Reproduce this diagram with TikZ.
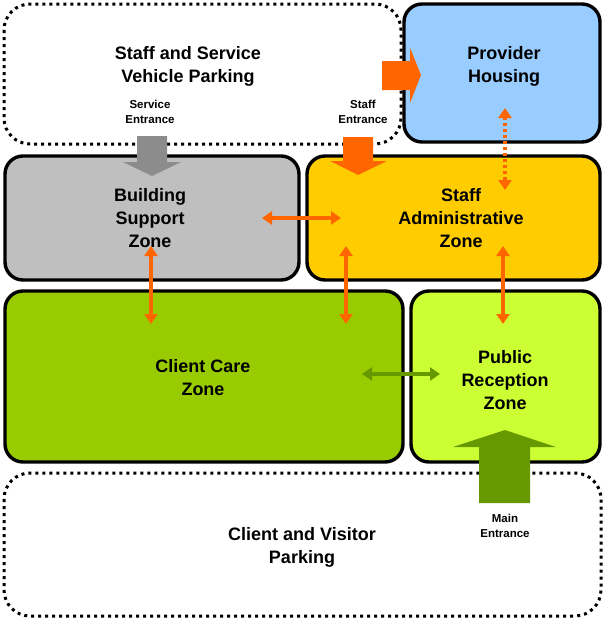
\documentclass[tikz,border=0pt]{standalone}
\usepackage{fontspec}
\setmainfont{Liberation Sans}
\usetikzlibrary{arrows.meta}
\begin{document}
\begin{tikzpicture}[x=1pt,y=-1pt,
  zone/.style={draw=black,line width=3.4pt,rounded corners=18pt},
  park/.style={draw=black,line width=3pt,dash pattern=on 3pt off 4pt,rounded corners=26pt},
  lbl/.style={font=\bfseries\fontsize{18}{23}\selectfont,align=center},
  small/.style={font=\bfseries\fontsize{11.5}{15}\selectfont,align=center},
  link/.style={draw=orng,line width=3.4pt,{Triangle[width=13pt,length=10pt]}-{Triangle[width=13pt,length=10pt]}},
  glink/.style={draw=gdark,line width=3.4pt,{Triangle[width=13pt,length=10pt]}-{Triangle[width=13pt,length=10pt]}}]
\definecolor{blue1}{HTML}{99CCFF}
\definecolor{gray1}{HTML}{BFBFBF}
\definecolor{gold1}{HTML}{FFCC00}
\definecolor{green1}{HTML}{99CC00}
\definecolor{lime1}{HTML}{CCFF33}
\definecolor{orng}{HTML}{FF6600}
\definecolor{gdark}{HTML}{669900}
\definecolor{garrow}{HTML}{8C8C8C}
\useasboundingbox (0,0) rectangle (606,621);
% parking areas
\draw[park] (4,4) rectangle (401,144);
\node[lbl] (sp) at (188,66) {Staff and Service\\Vehicle Parking};
\draw[park] (4,473) rectangle (601,616);
\node[lbl] (cp) at (302,547) {Client and Visitor\\Parking};
% zones
\draw[zone,fill=blue1] (404,4) rectangle (600,142);
\node[lbl] (ph) at (504,66) {Provider\\Housing};
\draw[zone,fill=gray1] (5,156) rectangle (299,280);
\node[lbl] (bs) at (150,218) {Building\\Support\\Zone};
\draw[zone,fill=gold1] (307,156) rectangle (600,280);
\node[lbl] (sa) at (461,218) {Staff\\Administrative\\Zone};
\draw[zone,fill=green1] (5,291) rectangle (403,462);
\node[lbl] (cc) at (203,378) {Client Care\\Zone};
\draw[zone,fill=lime1] (411,291) rectangle (600,462);
\node[lbl] (pr) at (505,380) {Public\\Reception\\Zone};
% entrance labels
\node[small] (se) at (150,112) {Service\\Entrance};
\node[small] (ste) at (363,112) {Staff\\Entrance};
\node[small] (me) at (505,526) {Main\\Entrance};
% block arrows
\fill[garrow] (137,136) -- (167,136) -- (167,162) -- (181,162) -- (152,176) -- (123,162) -- (137,162) -- cycle;
\fill[orng] (343,137) -- (373,137) -- (373,161) -- (387,161) -- (358,175) -- (330,161) -- (343,161) -- cycle;
\fill[orng] (382,61) -- (410,61) -- (410,48) -- (421,75) -- (410,103) -- (410,90) -- (382,90) -- cycle;
\fill[gdark] (479,503) -- (530,503) -- (530,447) -- (556,447) -- (505,430) -- (453,447) -- (479,447) -- cycle;
% links
\coordinate (a1) at (505,108); \coordinate (a2) at (505,190);
\draw[link,dash pattern=on 3pt off 3pt] (a1) -- (a2);
\coordinate (b1) at (262,218); \coordinate (b2) at (341,218);
\draw[link] (b1) -- (b2);
\coordinate (c1) at (151,246); \coordinate (c2) at (151,324);
\draw[link] (c1) -- (c2);
\coordinate (d1) at (346,246); \coordinate (d2) at (346,324);
\draw[link] (d1) -- (d2);
\coordinate (e1) at (503,246); \coordinate (e2) at (503,324);
\draw[link] (e1) -- (e2);
\coordinate (f1) at (362,374); \coordinate (f2) at (440,374);
\draw[glink] (f1) -- (f2);
\end{tikzpicture}
\end{document}
